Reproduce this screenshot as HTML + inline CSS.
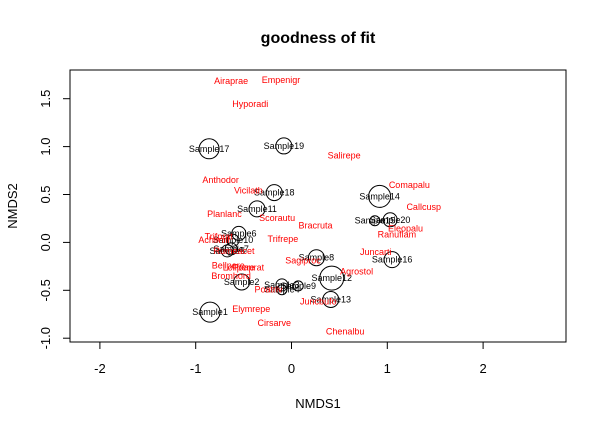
<!DOCTYPE html>
<html><head><meta charset="utf-8"><style>
body{margin:0;background:#fff}
svg{display:block;font-family:"Liberation Sans",Arial,sans-serif}
</style></head><body>
<svg id="c" width="600" height="429">
<text x="318" y="43" text-anchor="middle" font-weight="bold" font-size="16">goodness of fit</text>
<rect x="70" y="70" width="496" height="272" fill="none" stroke="#000"/>
<text x="318" y="408" text-anchor="middle" font-size="13">NMDS1</text>
<text transform="translate(17,206) rotate(-90)" text-anchor="middle" font-size="13">NMDS2</text>
<g id="ax"></g><g id="pts"></g><g id="sp"></g>
</svg>
<script>
const xTicks=[-2,-1,0,1,2];
const yTicks=[-1.0,-0.5,0.0,0.5,1.0,1.5];
const sampleNames=["Sample17","Sample19","Sample18","Sample14","Sample11","Sample20","Sample15","Sample6","Sample10","Sample7","Sample5","Sample8","Sample16","Sample12","Sample2","Sample3","Sample9","Sample4","Sample13","Sample1"];
const sampleX=[-0.86,-0.08,-0.18,0.92,-0.36,1.03,0.87,-0.55,-0.61,-0.63,-0.67,0.26,1.05,0.42,-0.52,-0.10,0.07,-0.10,0.41,-0.85];
const sampleY=[0.977,1.007,0.52,0.48,0.35,0.236,0.226,0.094,0.023,-0.068,-0.089,-0.16,-0.18,-0.373,-0.413,-0.444,-0.454,-0.494,-0.596,-0.728];
const sampleFit=[10,8,8,11,8,7,5,7,6,6,6,8,8,12,8,6,5,5,8,10];
const speciesNames=["Airaprae","Empenigr","Hyporadi","Salirepe","Anthodor","Vicilath","Comapalu","Callcusp","Planlanc","Scorautu","Bracruta","Eleopalu","Ranuflam","Trifrepe","Trifprat","Achimill","Juncarti","Rumeacet","Sagiproc","Bellpere","Lolipere","Poaprat","Bromhord","Agrostol","Poatriv","Juncbufo","Elymrepe","Cirsarve","Chenalbu"];
const speciesX=[-0.63,-0.11,-0.43,0.55,-0.74,-0.45,1.23,1.38,-0.70,-0.15,0.25,1.19,1.10,-0.09,-0.76,-0.81,0.88,-0.60,0.12,-0.66,-0.55,-0.45,-0.63,0.68,-0.24,0.28,-0.42,-0.18,0.56];
const speciesY=[1.687,1.697,1.443,0.906,0.652,0.54,0.601,0.368,0.297,0.256,0.175,0.145,0.084,0.033,0.064,0.023,-0.099,-0.089,-0.19,-0.241,-0.261,-0.261,-0.352,-0.302,-0.494,-0.616,-0.697,-0.839,-0.93];
const X=v=>291.5+v*95.8, Y=v=>242.4-v*95.8;
const NS="http://www.w3.org/2000/svg";
function mk(p,t,a,txt){const e=document.createElementNS(NS,t);for(const k in a)e.setAttribute(k,a[k]);if(txt!==undefined)e.textContent=txt;p.appendChild(e);return e;}
const ax=document.getElementById('ax'),pts=document.getElementById('pts'),sp=document.getElementById('sp');
xTicks.forEach(t=>{const l=mk(ax,'line',{x1:X(t),x2:X(t),y1:342,y2:349,stroke:'#000'});


const s=mk(ax,'text',{x:X(t),y:373,'text-anchor':'middle','font-size':13},String(t));

});
yTicks.forEach(t=>{const l=mk(ax,'line',{x1:63,x2:70,y1:Y(t),y2:Y(t),stroke:'#000'});


const s=mk(ax,'text',{transform:`translate(50,${Y(t)}) rotate(-90)`,'text-anchor':'middle','font-size':13},t.toFixed(1));

});
sampleNames.forEach((n,i)=>{const c=mk(pts,'circle',{cx:X(sampleX[i]),cy:Y(sampleY[i]),r:sampleFit[i],fill:'none',stroke:'#000'});


const t=mk(pts,'text',{x:X(sampleX[i]),y:Y(sampleY[i])+3,'text-anchor':'middle','font-size':9,fill:'#000'},n);

});
speciesNames.forEach((n,i)=>{const t=mk(sp,'text',{x:X(speciesX[i]),y:Y(speciesY[i])+3,'text-anchor':'middle','font-size':9,fill:'#ff0000'},n);

});
</script>
</body></html>
